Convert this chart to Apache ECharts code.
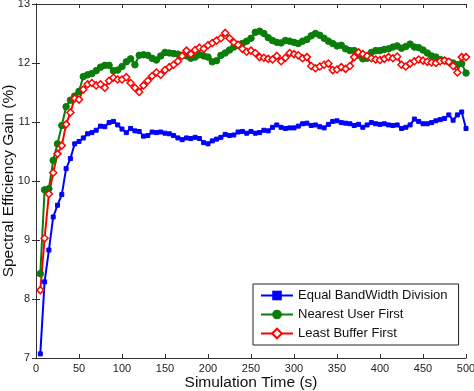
<!DOCTYPE html>
<html>
<head>
<meta charset="utf-8">
<script src="https://cdn.jsdelivr.net/npm/echarts@6/dist/echarts.min.js"></script>
<style>html,body{margin:0;padding:0;background:#fff}#c{width:474px;height:391px}</style>
</head>
<body>
<div id="c"></div>
<script>
var times = [];
for (var i = 1; i <= 100; i++) times.push(i * 5);

var seriesNames = ['Equal BandWidth Division', 'Nearest User First', 'Least Buffer First'];

var equalBandwidth = [
 7.07, 8.29, 8.83, 9.39, 9.59, 9.77, 10.21, 10.38, 10.63, 10.67,
 10.73, 10.80, 10.82, 10.86, 10.93, 10.92, 10.99, 11.01, 10.95, 10.88,
 10.82, 10.89, 10.85, 10.84, 10.76, 10.77, 10.83, 10.82, 10.83, 10.81,
 10.80, 10.77, 10.73, 10.70, 10.73, 10.72, 10.74, 10.72, 10.65, 10.63,
 10.68, 10.71, 10.74, 10.79, 10.77, 10.78, 10.83, 10.84, 10.81, 10.84,
 10.81, 10.82, 10.86, 10.85, 10.91, 10.95, 10.91, 10.89, 10.90, 10.90,
 10.93, 10.97, 10.98, 10.94, 10.95, 10.92, 10.90, 10.96, 11.01, 11.02,
 10.99, 10.98, 10.97, 10.94, 10.96, 10.91, 10.95, 10.99, 10.97, 10.96,
 10.97, 10.95, 10.94, 10.95, 10.89, 10.91, 10.95, 11.05, 11.01, 10.97,
 10.97, 10.99, 11.02, 11.04, 11.06, 11.12, 11.03, 11.12, 11.17, 10.89
];

var nearestUser = [
 8.43, 9.85, 9.87, 10.35, 10.63, 10.94, 11.26, 11.37, 11.44, 11.52,
 11.77, 11.80, 11.82, 11.87, 11.93, 11.96, 11.96, 11.87, 11.88, 11.94,
 12.02, 12.07, 11.97, 12.13, 12.14, 12.13, 12.08, 12.05, 12.12, 12.18,
 12.17, 12.16, 12.15, 12.13, 12.12, 12.08, 12.10, 12.14, 12.12, 12.10,
 12.02, 12.04, 12.13, 12.17, 12.22, 12.27, 12.30, 12.33, 12.37, 12.42,
 12.52, 12.54, 12.50, 12.43, 12.38, 12.35, 12.34, 12.38, 12.37, 12.35,
 12.33, 12.37, 12.40, 12.46, 12.50, 12.47, 12.42, 12.37, 12.33, 12.29,
 12.30, 12.24, 12.21, 12.21, 12.13, 12.07, 12.08, 12.18, 12.21, 12.21,
 12.23, 12.24, 12.27, 12.29, 12.25, 12.28, 12.32, 12.27, 12.26, 12.22,
 12.17, 12.12, 12.10, 12.06, 12.04, 12.02, 12.00, 11.97, 11.99, 11.83
];

var leastBuffer = [
 8.15, 9.03, 9.78, 10.14, 10.46, 10.60, 10.96, 11.16, 11.40, 11.38,
 11.55, 11.64, 11.66, 11.62, 11.64, 11.58, 11.70, 11.75, 11.72, 11.72,
 11.76, 11.66, 11.58, 11.51, 11.62, 11.70, 11.78, 11.84, 11.80, 11.88,
 11.93, 11.97, 12.03, 12.12, 12.21, 12.15, 12.22, 12.26, 12.24, 12.30,
 12.34, 12.38, 12.42, 12.51, 12.42, 12.35, 12.31, 12.24, 12.19, 12.21,
 12.17, 12.10, 12.09, 12.07, 12.06, 12.12, 12.03, 12.09, 12.17, 12.15,
 12.13, 12.08, 12.10, 11.95, 11.91, 11.94, 11.97, 11.99, 11.88, 11.89,
 11.93, 11.90, 11.95, 12.10, 12.18, 12.15, 12.12, 12.08, 12.06, 12.05,
 12.07, 12.10, 12.08, 12.11, 11.97, 11.94, 11.99, 12.03, 12.06, 12.04,
 12.02, 12.01, 12.00, 12.03, 12.04, 12.02, 11.95, 11.84, 12.10, 12.10
];

function pairs(vals) {
  return vals.map(function (v, i) { return [times[i], v]; });
}

var chart = echarts.init(document.getElementById('c'), null, {renderer: 'canvas'});
var font = 'Liberation Sans, Arial, sans-serif';
var axisColor = '#333';

var option = {
  animation: false,
  backgroundColor: '#fff',
  grid: {left: 36, right: 8, top: 4, bottom: 33, containLabel: false, outerBoundsMode: 'none'},
  legend: {
    orient: 'vertical',
    left: 253, top: 284,
    padding: [5, 11, 5, 7],
    itemWidth: 32, itemHeight: 12, itemGap: 6,
    borderColor: '#222', borderWidth: 1, backgroundColor: '#fff',
    textStyle: {fontFamily: font, fontSize: 13, color: '#111', padding: [0, 0, 0, 0]},
    data: seriesNames
  },
  xAxis: [{
    type: 'value', min: 0, max: 500, interval: 50,
    name: 'Simulation Time (s)', nameLocation: 'middle', nameGap: 17, nameMoveOverlap: false,
    nameTextStyle: {fontFamily: font, fontSize: 15.5, color: '#111', verticalAlign: 'top'},
    axisLine: {show: true, lineStyle: {color: axisColor, width: 1}},
    axisTick: {show: true, inside: true, length: 4, lineStyle: {color: axisColor}},
    axisLabel: {fontFamily: font, fontSize: 11, color: '#222', margin: 5},
    splitLine: {show: false}
  }, {
    type: 'value', min: 0, max: 500, interval: 50, position: 'top',
    axisLine: {show: true, lineStyle: {color: axisColor, width: 1}},
    axisTick: {show: true, inside: true, length: 4, lineStyle: {color: axisColor}},
    axisLabel: {show: false}, splitLine: {show: false}
  }],
  yAxis: [{
    type: 'value', min: 7, max: 13, interval: 1,
    name: 'Spectral Efficiency Gain (%)', nameLocation: 'middle', nameGap: 19, nameMoveOverlap: false,
    nameTextStyle: {fontFamily: font, fontSize: 15.5, color: '#111'},
    axisLine: {show: true, lineStyle: {color: axisColor, width: 1}},
    axisTick: {show: true, inside: true, length: 4, lineStyle: {color: axisColor}},
    axisLabel: {fontFamily: font, fontSize: 11, color: '#222', margin: 6},
    splitLine: {show: false}
  }, {
    type: 'value', min: 7, max: 13, interval: 1, position: 'right',
    axisLine: {show: true, lineStyle: {color: axisColor, width: 1}},
    axisTick: {show: true, inside: true, length: 4, lineStyle: {color: axisColor}},
    axisLabel: {show: false}, splitLine: {show: false}
  }],
  series: [{
    name: seriesNames[0], type: 'line', data: pairs(equalBandwidth),
    symbol: 'rect', symbolSize: 4, showAllSymbol: true,
    lineStyle: {color: '#0000ff', width: 2},
    itemStyle: {color: '#0000ff', borderColor: '#0000ff'}
  }, {
    name: seriesNames[1], type: 'line', data: pairs(nearestUser),
    symbol: 'circle', symbolSize: 6.5, showAllSymbol: true,
    lineStyle: {color: '#0a7d0a', width: 2},
    itemStyle: {color: '#0a7d0a', borderColor: '#0a7d0a'}
  }, {
    name: seriesNames[2], type: 'line', data: pairs(leastBuffer),
    symbol: 'diamond', symbolSize: 7, showAllSymbol: true,
    lineStyle: {color: '#ff0000', width: 2},
    itemStyle: {color: '#ffffff', borderColor: '#ff0000', borderWidth: 1.5}
  }]
};
chart.setOption(option);
</script>
</body>
</html>
